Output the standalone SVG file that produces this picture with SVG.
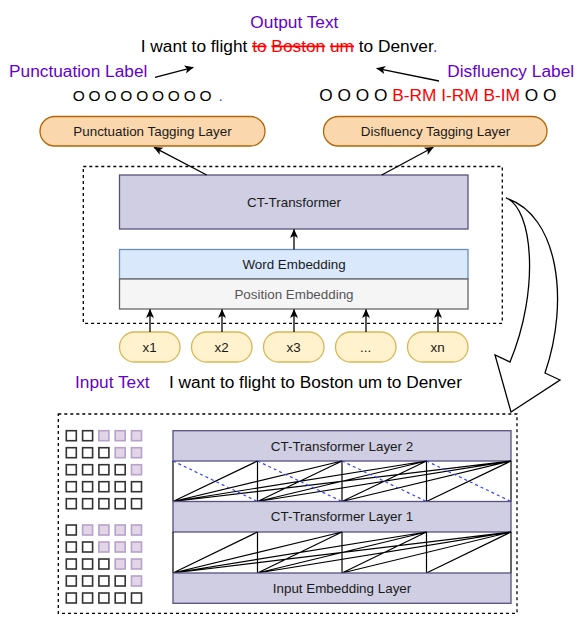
<svg xmlns="http://www.w3.org/2000/svg" width="582" height="623" viewBox="0 0 582 623">
<defs>
<marker id="arr" viewBox="0 0 10 10" refX="9.5" refY="5" markerWidth="10" markerHeight="9" markerUnits="userSpaceOnUse" orient="auto">
<path d="M0,0.5 L10,5 L0,9.5 L2.5,5 z" fill="#000"/>
</marker>
<style>
text{font-family:"Liberation Sans",Arial,sans-serif;}
.big{font-size:17.3px;}
.lbl{font-size:17.3px;fill:#6600CC;}
.box{font-size:13.4px;fill:#1a1a1a;text-anchor:middle;}
.tag{fill:#fad7ac;stroke:#b46504;stroke-width:1.3;}
.inp{fill:#fff2cc;stroke:#d6b656;stroke-width:1.3;}
.ct{fill:#d0cee2;stroke:#56517e;stroke-width:1.3;}
.conn{stroke:#000;stroke-width:1.3;fill:none;}
.dash{fill:none;stroke:#000;stroke-width:1.3;stroke-dasharray:3,3;}
.att{stroke:#000;stroke-width:1.2;fill:none;}
.bd{stroke:#3344ff;stroke-width:1.2;stroke-dasharray:3,3;fill:none;}
.sq{fill:#fff;stroke:#333;stroke-width:1.6;}
.sp{fill:#e1d5e7;stroke:#b7a2c9;stroke-width:1.6;}
.red{fill:#ff0000;}
</style>
</defs>

<g id="output-text">
<text class="lbl" x="294.4" y="28.3" text-anchor="middle">Output Text</text>
<text class="big" x="140.7" y="51.7" fill="#000">I want to flight <tspan class="red" text-decoration="line-through">to</tspan> <tspan class="red" text-decoration="line-through">Boston</tspan> <tspan class="red" text-decoration="line-through">um</tspan> to Denver<tspan fill="#3355ff">.</tspan></text>
</g>

<g id="punctuation-label">
<text class="lbl" x="9" y="76.7">Punctuation Label</text>
<text x="72.7" y="101" font-size="15.5" word-spacing="-0.5" fill="#000">O O O O O O O O O <tspan x="218.5" fill="#3355ff">.</tspan></text>
</g>

<g id="disfluency-label">
<text class="lbl" x="447.3" y="76.7">Disfluency Label</text>
<text class="big" x="319.3" y="101" fill="#000">O O O O <tspan class="red">B-RM I-RM B-IM</tspan> O O</text>
</g>

<g id="punctuation-tagging-layer">
<rect class="tag" x="40" y="116.5" width="225" height="29.5" rx="14.75"/>
<text class="box" x="152.5" y="135.7">Punctuation Tagging Layer</text>
</g>
<g id="disfluency-tagging-layer">
<rect class="tag" x="323.5" y="116.5" width="223.5" height="29.5" rx="14.75"/>
<text class="box" x="435.5" y="135.7">Disfluency Tagging Layer</text>
</g>

<g id="model-box">
<rect class="dash" x="83.3" y="166.5" width="419" height="156.8"/>
</g>
<g id="ct-transformer">
<rect class="ct" x="119.5" y="175" width="348.5" height="54"/>
<text class="box" x="294" y="206.7">CT-Transformer</text>
</g>
<g id="word-embedding">
<rect x="119.5" y="249.5" width="348.5" height="29.5" fill="#dae8fc" stroke="#6c8ebf" stroke-width="1.3"/>
<text class="box" x="294" y="269.2">Word Embedding</text>
</g>
<g id="position-embedding">
<rect x="119.5" y="279" width="348.5" height="30" fill="#f5f5f5" stroke="#666666" stroke-width="1.3"/>
<text class="box" x="294" y="298.8" style="fill:#555555">Position Embedding</text>
</g>

<g id="x1"><rect class="inp" x="119.5" y="332" width="60.5" height="30" rx="15"/><text class="box" x="149.7" y="351.7">x1</text></g>
<g id="x2"><rect class="inp" x="191.5" y="332" width="60.5" height="30" rx="15"/><text class="box" x="221.7" y="351.7">x2</text></g>
<g id="x3"><rect class="inp" x="263.5" y="332" width="60.5" height="30" rx="15"/><text class="box" x="293.7" y="351.7">x3</text></g>
<g id="xdots"><rect class="inp" x="335.5" y="332" width="60.5" height="30" rx="15"/><text class="box" x="365.7" y="351.7">...</text></g>
<g id="xn"><rect class="inp" x="407.5" y="332" width="60.5" height="30" rx="15"/><text class="box" x="437.7" y="351.7">xn</text></g>

<g id="input-text">
<text class="lbl" x="75" y="388.3">Input Text</text>
<text class="big" x="169" y="388.3" fill="#000">I want to flight to Boston um to Denver</text>
</g>

<g id="connectors">
<line class="conn" x1="155" y1="77.3" x2="193.3" y2="67.3" marker-end="url(#arr)"/>
<line class="conn" x1="439" y1="81" x2="376.7" y2="68.3" marker-end="url(#arr)"/>
<line class="conn" x1="206.7" y1="175" x2="154" y2="147.3" marker-end="url(#arr)"/>
<line class="conn" x1="381.7" y1="175" x2="433.3" y2="147.3" marker-end="url(#arr)"/>
<line class="conn" x1="294" y1="249.5" x2="294" y2="229.5" marker-end="url(#arr)"/>
<line class="conn" x1="150" y1="332" x2="150" y2="309.5" marker-end="url(#arr)"/>
<line class="conn" x1="222" y1="332" x2="222" y2="309.5" marker-end="url(#arr)"/>
<line class="conn" x1="294" y1="332" x2="294" y2="309.5" marker-end="url(#arr)"/>
<line class="conn" x1="366" y1="332" x2="366" y2="309.5" marker-end="url(#arr)"/>
<line class="conn" x1="438" y1="332" x2="438" y2="309.5" marker-end="url(#arr)"/>
<path id="big-arrow" d="M506,198 C533,208 540,290 510,362 L495,355 L511,412 L560,380 L545,373 C570,300 558,215 506,198 Z" fill="#fff" stroke="#000" stroke-width="1.3"/>
</g>

<g id="detail-box">
<rect class="dash" x="58.3" y="414" width="458.7" height="199.3"/>
</g>

<g id="mask-grids">
<rect class="sq" x="66.3" y="430.7" width="10" height="10"/><rect class="sq" x="82.6" y="430.7" width="10" height="10"/><rect class="sp" x="98.9" y="430.7" width="10" height="10"/><rect class="sp" x="115.2" y="430.7" width="10" height="10"/><rect class="sp" x="131.5" y="430.7" width="10" height="10"/>
<rect class="sq" x="66.3" y="447.7" width="10" height="10"/><rect class="sq" x="82.6" y="447.7" width="10" height="10"/><rect class="sq" x="98.9" y="447.7" width="10" height="10"/><rect class="sp" x="115.2" y="447.7" width="10" height="10"/><rect class="sp" x="131.5" y="447.7" width="10" height="10"/>
<rect class="sq" x="66.3" y="464.7" width="10" height="10"/><rect class="sq" x="82.6" y="464.7" width="10" height="10"/><rect class="sq" x="98.9" y="464.7" width="10" height="10"/><rect class="sq" x="115.2" y="464.7" width="10" height="10"/><rect class="sp" x="131.5" y="464.7" width="10" height="10"/>
<rect class="sq" x="66.3" y="481.7" width="10" height="10"/><rect class="sq" x="82.6" y="481.7" width="10" height="10"/><rect class="sq" x="98.9" y="481.7" width="10" height="10"/><rect class="sq" x="115.2" y="481.7" width="10" height="10"/><rect class="sq" x="131.5" y="481.7" width="10" height="10"/>
<rect class="sq" x="66.3" y="498.7" width="10" height="10"/><rect class="sq" x="82.6" y="498.7" width="10" height="10"/><rect class="sq" x="98.9" y="498.7" width="10" height="10"/><rect class="sq" x="115.2" y="498.7" width="10" height="10"/><rect class="sq" x="131.5" y="498.7" width="10" height="10"/>

<rect class="sq" x="66.3" y="525" width="10" height="10"/><rect class="sp" x="82.6" y="525" width="10" height="10"/><rect class="sp" x="98.9" y="525" width="10" height="10"/><rect class="sp" x="115.2" y="525" width="10" height="10"/><rect class="sp" x="131.5" y="525" width="10" height="10"/>
<rect class="sq" x="66.3" y="542" width="10" height="10"/><rect class="sq" x="82.6" y="542" width="10" height="10"/><rect class="sp" x="98.9" y="542" width="10" height="10"/><rect class="sp" x="115.2" y="542" width="10" height="10"/><rect class="sp" x="131.5" y="542" width="10" height="10"/>
<rect class="sq" x="66.3" y="559" width="10" height="10"/><rect class="sq" x="82.6" y="559" width="10" height="10"/><rect class="sq" x="98.9" y="559" width="10" height="10"/><rect class="sp" x="115.2" y="559" width="10" height="10"/><rect class="sp" x="131.5" y="559" width="10" height="10"/>
<rect class="sq" x="66.3" y="576" width="10" height="10"/><rect class="sq" x="82.6" y="576" width="10" height="10"/><rect class="sq" x="98.9" y="576" width="10" height="10"/><rect class="sq" x="115.2" y="576" width="10" height="10"/><rect class="sp" x="131.5" y="576" width="10" height="10"/>
<rect class="sq" x="66.3" y="593" width="10" height="10"/><rect class="sq" x="82.6" y="593" width="10" height="10"/><rect class="sq" x="98.9" y="593" width="10" height="10"/><rect class="sq" x="115.2" y="593" width="10" height="10"/><rect class="sq" x="131.5" y="593" width="10" height="10"/>
</g>

<g id="ct-layer-2">
<rect class="ct" x="173" y="430.7" width="338" height="30.3"/>
<text class="box" x="342" y="450.5">CT-Transformer Layer 2</text>
</g>
<g id="attention-2">
<path class="att" d="M173,461V501.5M257.5,461V501.5M342,461V501.5M426.5,461V501.5M511,461V501.5"/>
<path class="att" d="M173,501.5L257.5,461M173,501.5L342,461M173,501.5L426.5,461M173,501.5L511,461M257.5,501.5L342,461M257.5,501.5L426.5,461M257.5,501.5L511,461M342,501.5L426.5,461M342,501.5L511,461M426.5,501.5L511,461"/>
<path class="bd" d="M173,461L257.5,501.5M257.5,461L342,501.5M342,461L426.5,501.5M426.5,461L511,501.5"/>
</g>
<g id="ct-layer-1">
<rect class="ct" x="173" y="501.5" width="338" height="30.5"/>
<text class="box" x="342" y="521.2">CT-Transformer Layer 1</text>
</g>
<g id="attention-1">
<path class="att" d="M173,532V573M257.5,532V573M342,532V573M426.5,532V573M511,532V573"/>
<path class="att" d="M173,573L257.5,532M173,573L342,532M173,573L426.5,532M173,573L511,532M257.5,573L342,532M257.5,573L426.5,532M257.5,573L511,532M342,573L426.5,532M342,573L511,532M426.5,573L511,532"/>
</g>
<g id="input-embedding-layer">
<rect class="ct" x="173" y="573" width="338" height="30.3"/>
<text class="box" x="342" y="593">Input Embedding Layer</text>
</g>
</svg>
